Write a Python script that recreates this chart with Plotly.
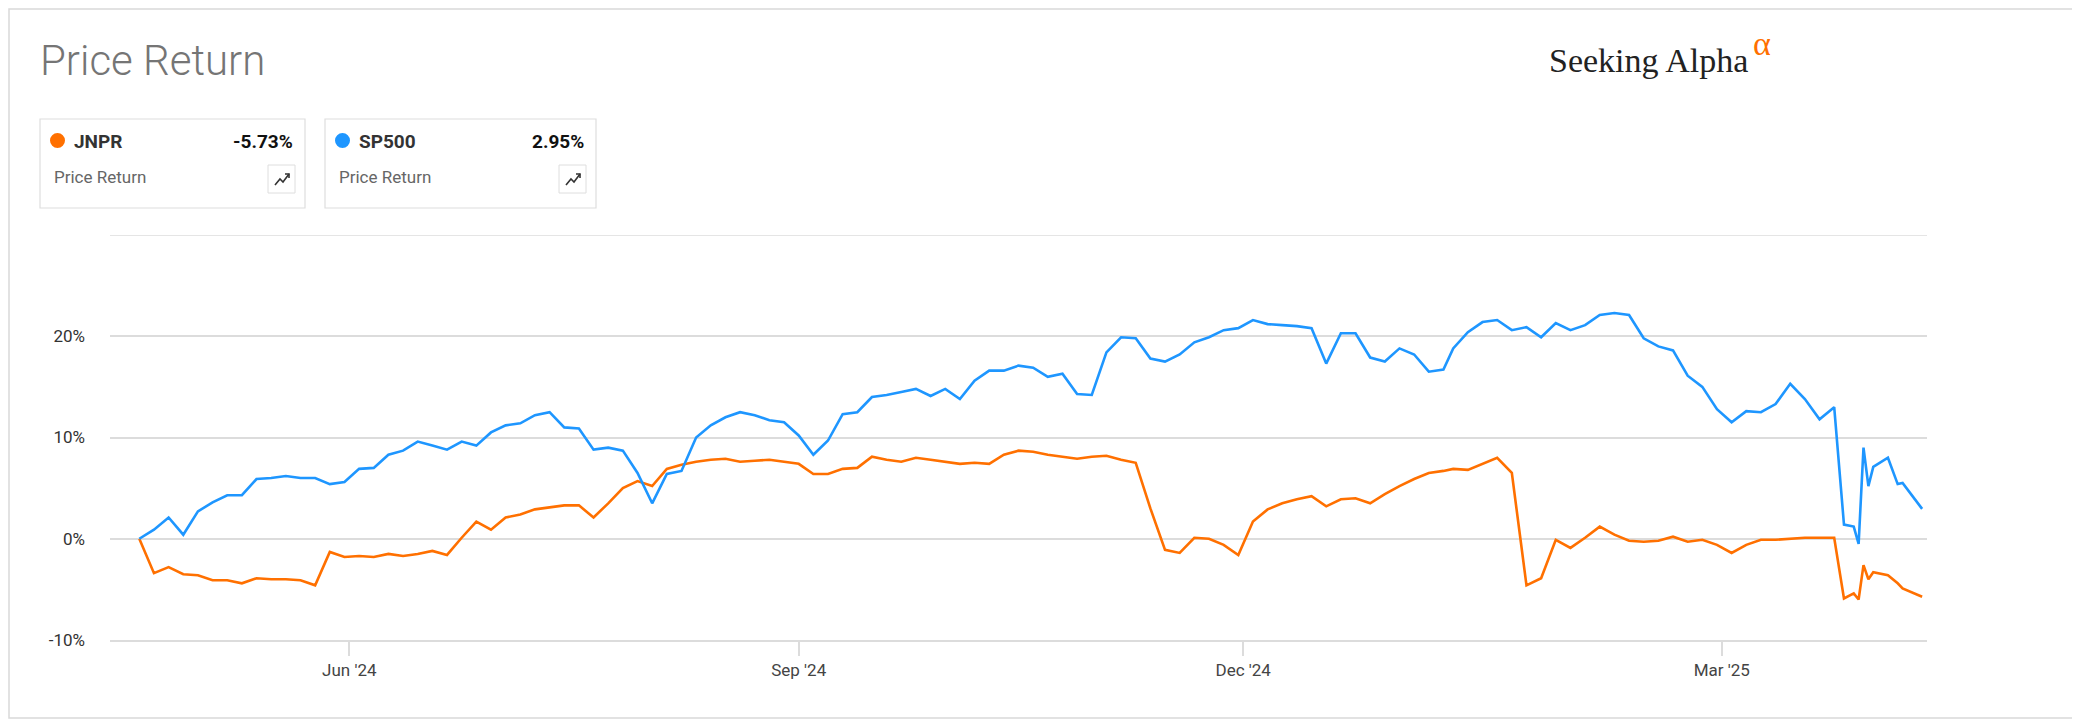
import pandas as pd
import plotly.graph_objects as go

# ---- data (percent price return) ----
seg_a_start = "2024-04-19"   # 3-day spacing
jnpr_a = [0, -3.4, -2.8, -3.5, -3.6, -4.1, -4.1, -4.4, -3.9, -4.0,
          -4.0, -4.1, -4.6, -1.3, -1.8, -1.7, -1.8, -1.5, -1.7, -1.5,
          -1.2, -1.6, 0.1, 1.7, 0.9, 2.1, 2.4, 2.9, 3.1, 3.3,
          3.3, 2.1, 3.5, 5.0, 5.7, 5.2, 6.9, 7.3, 7.6, 7.8,
          7.9, 7.6, 7.7, 7.8, 7.6, 7.4, 6.4, 6.4, 6.9, 7.0,
          8.1, 7.8, 7.6, 8.0, 7.8, 7.6, 7.4, 7.5, 7.4, 8.3,
          8.7, 8.6, 8.3, 8.1, 7.9, 8.1, 8.2, 7.8, 7.5, 3.0,
          -1.1, -1.4, 0.1, 0.0, -0.6, -1.6, 1.7, 2.9, 3.5, 3.9,
          4.2, 3.2, 3.9, 4.0, 3.5, 4.4, 5.2, 5.9, 6.5, 6.7]
sp500_a = [0, 0.9, 2.1, 0.4, 2.7, 3.6, 4.3, 4.3, 5.9, 6.0,
           6.2, 6.0, 6.0, 5.4, 5.6, 6.9, 7.0, 8.3, 8.7, 9.6,
           9.2, 8.8, 9.6, 9.2, 10.5, 11.2, 11.4, 12.2, 12.5, 11.0,
           10.9, 8.8, 9.0, 8.7, 6.5, 3.5, 6.4, 6.7, 10.0, 11.2,
           12.0, 12.5, 12.2, 11.7, 11.5, 10.2, 8.3, 9.7, 12.3, 12.5,
           14.0, 14.2, 14.5, 14.8, 14.1, 14.8, 13.8, 15.6, 16.6, 16.6,
           17.1, 16.9, 16.0, 16.3, 14.3, 14.2, 18.4, 19.9, 19.8, 17.8,
           17.5, 18.2, 19.4, 19.9, 20.6, 20.8, 21.6, 21.2, 21.1, 21.0,
           20.8, 17.3, 20.3, 20.3, 17.9, 17.5, 18.8, 18.2, 16.5, 16.7]

seg_b_start = "2025-01-13"   # 3-day spacing
jnpr_b = [6.9, 6.8, 7.4, 8.0, 6.5, -4.6, -3.9, -0.1, -0.9, 0.1,
          1.2, 0.4, -0.2, -0.3, -0.2, 0.2, -0.3, -0.1, -0.6, -1.4,
          -0.6, -0.1, -0.1, 0.0, 0.1, 0.1, 0.1]
sp500_b = [18.8, 20.4, 21.4, 21.6, 20.6, 20.9, 19.9, 21.3, 20.6, 21.1,
           22.1, 22.3, 22.1, 19.8, 19.0, 18.6, 16.1, 15.0, 12.8, 11.5,
           12.6, 12.5, 13.3, 15.3, 13.8, 11.8, 13.0]

tail_dates = ["2025-04-03", "2025-04-05", "2025-04-06", "2025-04-07", "2025-04-08",
              "2025-04-09", "2025-04-12", "2025-04-14", "2025-04-15", "2025-04-19"]
jnpr_tail = [-5.9, -5.4, -6.0, -2.6, -4.0, -3.3, -3.6, -4.4, -4.9, -5.73]
sp500_tail = [1.4, 1.2, -0.5, 9.0, 5.2, 7.1, 8.0, 5.4, 5.5, 2.95]

tick_dates = ["2024-06-01", "2024-09-01", "2024-12-01", "2025-03-09"]
tick_labels = ["Jun '24", "Sep '24", "Dec '24", "Mar '25"]
y_ticks = [-10, 0, 10, 20]
y_labels = ["-10%", "0%", "10%", "20%"]

names = ["JNPR", "SP500"]
finals = ["-5.73%", "2.95%"]
colors = ["#FF7000", "#1E96FF"]

dates = (list(pd.date_range(seg_a_start, periods=len(jnpr_a), freq="3D"))
         + list(pd.date_range(seg_b_start, periods=len(jnpr_b), freq="3D"))
         + list(pd.to_datetime(tail_dates)))
series = [jnpr_a + jnpr_b + jnpr_tail, sp500_a + sp500_b + sp500_tail]

OFF = 8  # page body margin compensation
W, H = 2080, 720
ML, MR, MT, MB = 110 - OFF, 153 + OFF, 235 - OFF, 80 + OFF
fig = go.Figure()
for nm, vals, c in zip(names, series, colors):
    fig.add_trace(go.Scatter(x=dates, y=vals, mode="lines", name=nm,
                             line=dict(color=c, width=2.6), showlegend=False))

def px(x):  # paper x from target pixel
    return (x - OFF - ML) / (W - ML - MR)
def py(y):
    return (H - MB - (y - OFF)) / (H - MT - MB)

shapes = []
annos = []
shapes.append(dict(type="rect", xref="paper", yref="paper", x0=px(OFF + 1), x1=px(W - 2),
                   y0=py(H - 2), y1=py(OFF + 1), line=dict(color="#d9d9d9", width=1.5), layer="below"))
shapes.append(dict(type="line", xref="paper", yref="y", x0=0, x1=1, y0=30, y1=30,
                   line=dict(color="#dcdcdc", width=1.5), layer="below"))
annos.append(dict(text="Price Return", x=px(38), y=py(60), xref="paper", yref="paper",
                  xanchor="left", yanchor="middle", showarrow=False,
                  font=dict(family="Roboto", size=42, color="#757575", weight=300)))
annos.append(dict(text="Seeking Alpha", x=px(1750), y=py(60), xref="paper", yref="paper",
                  xanchor="right", yanchor="middle", showarrow=False,
                  font=dict(family="Liberation Serif", size=34, color="#222")))
annos.append(dict(text="α", x=px(1751), y=py(44), xref="paper", yref="paper",
                  xanchor="left", yanchor="middle", showarrow=False,
                  font=dict(family="Liberation Serif", size=34, color="#FF7000")))
boxes = [(40, 305), (325, 596)]
for (x0, x1), nm, fv, c in zip(boxes, names, finals, colors):
    shapes.append(dict(type="rect", xref="paper", yref="paper", x0=px(x0), x1=px(x1),
                       y0=py(208), y1=py(119), line=dict(color="#dedede", width=1.2),
                       fillcolor="white", layer="below"))
    shapes.append(dict(type="circle", xref="paper", yref="paper", x0=px(x0 + 10), x1=px(x0 + 25),
                       y0=py(148), y1=py(133), line=dict(width=0), fillcolor=c))
    annos.append(dict(text="<b>%s</b>" % nm, x=px(x0 + 32), y=py(141), xref="paper", yref="paper",
                      xanchor="left", yanchor="middle", showarrow=False,
                      font=dict(family="Roboto", size=19, color="#333")))
    annos.append(dict(text="<b>%s</b>" % fv, x=px(x1 - 10), y=py(141), xref="paper", yref="paper",
                      xanchor="right", yanchor="middle", showarrow=False,
                      font=dict(family="Roboto", size=19, color="#111")))
    annos.append(dict(text="Price Return", x=px(x0 + 12), y=py(177), xref="paper", yref="paper",
                      xanchor="left", yanchor="middle", showarrow=False,
                      font=dict(family="Roboto", size=17, color="#666")))
    ix0, ix1 = x1 - 37, x1 - 10
    shapes.append(dict(type="rect", xref="paper", yref="paper", x0=px(ix0), x1=px(ix1),
                       y0=py(193), y1=py(165), line=dict(color="#dedede", width=1)))
    pts = [(ix0 + 7, 185), (ix0 + 12, 179), (ix0 + 15, 182), (ix0 + 21, 174)]
    path = "M " + " L ".join("%f,%f" % (px(a), py(b)) for a, b in pts)
    shapes.append(dict(type="path", xref="paper", yref="paper", path=path,
                       line=dict(color="#333", width=1.6)))
    shapes.append(dict(type="path", xref="paper", yref="paper",
                       path="M %f,%f L %f,%f L %f,%f" % (px(ix0 + 17), py(174), px(ix0 + 21), py(174),
                                                         px(ix0 + 21), py(178)),
                       line=dict(color="#333", width=1.6)))

fig.update_layout(
    width=W, height=H, margin=dict(l=ML, r=MR, t=MT, b=MB),
    paper_bgcolor="white", plot_bgcolor="white",
    shapes=shapes, annotations=annos,
    font=dict(family="Roboto"),
    xaxis=dict(range=["2024-04-13", "2025-04-20"], tickvals=pd.to_datetime(tick_dates),
               ticktext=tick_labels, showgrid=False, zeroline=False,
               showline=True, linecolor="#dcdcdc", linewidth=1.5,
               ticks="outside", ticklen=14, tickcolor="#dcdcdc", tickwidth=1.5,
               tickfont=dict(size=17, color="#444")),
    yaxis=dict(range=[-10, 30], tickvals=y_ticks, ticktext=y_labels,
               showgrid=True, gridcolor="#dcdcdc", gridwidth=1.5, zeroline=False,
               ticklabelstandoff=24, tickfont=dict(size=17, color="#333")),
)
fig.write_html("out.html")
